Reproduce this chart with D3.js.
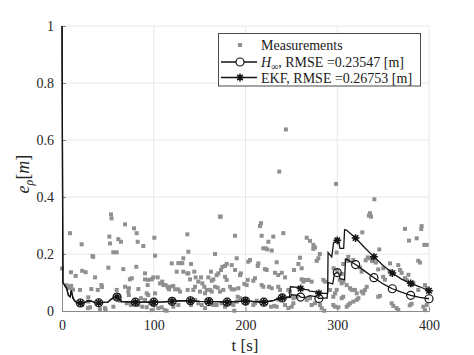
<!DOCTYPE html>
<html><head><meta charset="utf-8">
<script src="https://cdn.jsdelivr.net/npm/d3@7"></script>
<style>
html,body{margin:0;padding:0;background:#fff;}
svg{display:block;}
</style></head>
<body><svg id="chart" width="474" height="355"></svg>
<script>
// ---- data ----
const xTicks = [0, 100, 200, 300, 400];
const yTicks = [0, 0.2, 0.4, 0.6, 0.8, 1];
const yTickLabels = ["0", "0.2", "0.4", "0.6", "0.8", "1"];
const seriesNames = ["Measurements", "H∞, RMSE =0.23547 [m]", "EKF, RMSE =0.26753 [m]"];

const measurements = [
[0,0.149],[8.7,0.273],[21.4,0.234],[33.2,0.193],[34,0.19],[53.4,0.339],[54,0.325],[51.6,0.261],[52.3,0.237],[68.7,0.304],[78.5,0.29],[81.4,0.273],[61.4,0.252],[64.3,0.243],[88.6,0.228],[55.9,0.206],[59.6,0.206],[82.5,0.243],[9.8,0.136],[14.9,0.123],[22,0.141],[25.8,0.136],[50.5,0.152],[36,0.118],[66.8,0.147],[81,0.155],[74,0.111],[90.5,0.111],[90.5,0.132],[76,0.115],[43,0.091],[43.5,0.084],[39,0.074],[32,0.077],[28.7,0.048],[19.6,0.074],[5,0.09],[6,0.085],[8,0.08],[10,0.088],[12,0.075],[59.6,0.074],[68.7,0.085],[73,0.08],[72.3,0.068],[72.8,0.056],[83.2,0.077],[46.9,0.01],[47.5,0.004],[56,0.015],[41.4,0.006],[28.3,0.01],[30.5,0.013],[21.4,0.021],[63.2,0.036],[70.5,0.027],[75,0.021],[83.2,0.021],[87.5,0.015],[92.3,0.013],[86,0.045],[90.5,0.039],[28.7,0.033],
[100.6,0.257],[101.4,0.194],[136.6,0.269],[137.7,0.208],[172.2,0.331],[173,0.331],[166.8,0.2],[188.6,0.264],[190.4,0.185],[132.2,0.185],[126.8,0.168],[129.7,0.168],[131.1,0.168],[119.6,0.167],[140.6,0.165],[125,0.138],[132.2,0.138],[136.6,0.132],[137.7,0.132],[144.2,0.138],[145.7,0.118],[139.5,0.111],[148.6,0.103],[151.5,0.118],[152.9,0.097],[155.1,0.085],[159.5,0.118],[162.4,0.138],[163.2,0.106],[165,0.111],[168.6,0.126],[170.4,0.132],[173.3,0.144],[174.8,0.155],[177.7,0.158],[179.5,0.165],[185,0.161],[188.6,0.144],[177.7,0.12],[179.5,0.109],[166.8,0.085],[169.7,0.082],[183.1,0.085],[185,0.076],[187.8,0.076],[192.2,0.08],[94,0.109],[93.4,0.091],[97.8,0.111],[99.5,0.118],[104.3,0.118],[106.8,0.097],[109.3,0.103],[110.4,0.091],[113,0.091],[115.2,0.083],[116.6,0.076],[117.7,0.085],[121.3,0.088],[123.2,0.076],[126.8,0.076],[128.6,0.068],[143.1,0.074],[145,0.085],[137,0.074],[150.4,0.068],[155.9,0.062],[157.7,0.074],[161.3,0.074],[163.2,0.068],[172.2,0.068],[175.8,0.074],[92.3,0.062],[94,0.056],[101.4,0.062],[105,0.01],[108.7,0.013],[114,0.001],[112,0.003],[121.3,0.015],[126.8,0.021],[140.6,0.021],[145,0.039],[148.6,0.027],[152.3,0.021],[155.9,0.01],[165,0.021],[168.6,0.021],[174,0.027],[177.7,0.015],[183.1,0.027],[186.7,0.021],[187.8,0.001],[190.4,0.033],[95.9,0.027],[99.5,0.021],[97.8,0.003],
[215.8,0.298],[216.9,0.308],[217.6,0.264],[224.9,0.243],[230.3,0.261],[241.2,0.273],[219.4,0.22],[222,0.22],[223.8,0.216],[228.6,0.212],[266.7,0.257],[270.3,0.246],[275.7,0.223],[273.9,0.218],[277.6,0.176],[279.4,0.185],[259.4,0.187],[257.6,0.165],[261.2,0.15],[252.9,0.144],[234,0.171],[214,0.167],[213.3,0.158],[204.9,0.179],[203.1,0.173],[221.2,0.147],[223.1,0.144],[232.2,0.134],[235.7,0.126],[239.5,0.134],[243.1,0.118],[210.3,0.115],[208.5,0.106],[194,0.126],[195,0.132],[198.7,0.095],[202.4,0.109],[201.3,0.091],[217.6,0.091],[219.4,0.085],[225.6,0.085],[228.6,0.08],[235.7,0.085],[237.6,0.074],[261.2,0.111],[263,0.103],[264.8,0.109],[268.5,0.109],[272.1,0.103],[284.8,0.109],[286.6,0.103],[246.7,0.074],[248.5,0.068],[191.5,0.05],[194,0.045],[199.5,0.039],[201.3,0.027],[208.5,0.021],[210.3,0.027],[212.2,0.036],[227.8,0.015],[231.4,0.018],[234,0.015],[235.7,0.041],[243.1,0.021],[246.7,0.01],[250.4,0.015],[252.2,0.027],[252.2,0.045],[255.8,0.05],[266.7,0.039],[270.3,0.045],[272.1,0.021],[275.7,0.027],[281.2,0.021],[283,0.01],[285.9,0.001],
[236.8,0.489],[244,0.637],[298.7,0.446],[274,0.232],[281,0.2],[299.3,0.205],[312,0.19],[317.5,0.179],
[340.4,0.392],[335.7,0.343],[336.8,0.331],[334.5,0.335],[327.3,0.276],[345.8,0.216],[373.8,0.288],[392,0.298],[391.5,0.288],[378.2,0.247],[386.6,0.255],[388.3,0.176],[390.2,0.17],[394.9,0.232],[397.5,0.232],[312,0.176],[310.3,0.179],[333.2,0.188],[335.7,0.185],[331,0.178],[338,0.175],[342,0.17],[306.6,0.165],[296,0.15],[300,0.14],[305,0.13],[324.8,0.153],[326.6,0.138],[344.7,0.146],[350.2,0.15],[357.5,0.167],[366.5,0.161],[350,0.12],[357,0.14],[352,0.11],[368.4,0.144],[370.2,0.134],[373.8,0.115],[375.7,0.109],[377.6,0.127],[381.1,0.091],[382.9,0.099],[388.3,0.074],[395.6,0.091],[397.5,0.08],[303,0.109],[304.8,0.097],[306.6,0.103],[310.3,0.091],[313.9,0.08],[315.8,0.074],[319.3,0.074],[321.2,0.062],[326.6,0.068],[328.4,0.062],[330.3,0.074],[332.1,0.085],[344.7,0.05],[346.6,0.053],[359.3,0.027],[361.1,0.018],[364.7,0.01],[366.5,0.004],[292,0.074],[295.7,0.05],[297.5,0.062],[299.4,0.074],[304.8,0.045],[306.6,0.05],[295.7,0.021],[297.5,0.015],[301.2,0.013],[310.3,0.015],[312.1,0.021],[313.9,0.027],[317.5,0.033],[321.2,0.039],[323,0.045],[393.8,0.015],[397.5,0.021],[395.6,0.003],[379,0.02],[381,0.025]
];

const hinfT = [0,1,3,5,7,9,10,11,12,14,16,20,25,28,32,35,40,45,50,53,57,60,63,65,80,100,110,120,130,140,150,160,170,180,190,200,210,220,230,235,240,249,250,258,260,265,270,278,280,285,289,290,295,297,300,302,303,308,309,310,320,330,340,350,360,370,380,390,400];
const hinfV = [1.0,0.1,0.09,0.08,0.055,0.05,0.072,0.06,0.045,0.035,0.03,0.028,0.03,0.036,0.035,0.03,0.029,0.03,0.031,0.04,0.048,0.049,0.04,0.033,0.031,0.031,0.032,0.034,0.036,0.036,0.034,0.033,0.033,0.031,0.033,0.035,0.033,0.031,0.036,0.043,0.046,0.048,0.057,0.055,0.049,0.047,0.054,0.05,0.044,0.045,0.045,0.1,0.095,0.13,0.135,0.13,0.113,0.11,0.18,0.182,0.163,0.14,0.117,0.095,0.078,0.066,0.055,0.048,0.043];

const ekfT = [0,1,3,5,7,9,10,11,12,14,16,20,25,28,32,35,40,45,50,53,57,60,63,65,80,100,110,120,130,140,150,160,170,180,190,200,210,220,230,235,240,248,249,258,260,265,268,270,278,280,285,289.5,290,294,296,300,302,303,307,308,310,320,330,340,350,360,370,378,380,390,400];
const ekfV = [1.0,0.1,0.09,0.08,0.055,0.05,0.072,0.06,0.045,0.035,0.03,0.028,0.03,0.036,0.035,0.03,0.029,0.03,0.031,0.04,0.048,0.049,0.04,0.033,0.031,0.031,0.032,0.034,0.036,0.036,0.034,0.033,0.033,0.031,0.033,0.035,0.033,0.031,0.036,0.043,0.046,0.05,0.085,0.083,0.079,0.075,0.075,0.07,0.067,0.062,0.062,0.062,0.205,0.19,0.24,0.248,0.235,0.22,0.22,0.285,0.284,0.256,0.222,0.19,0.16,0.133,0.112,0.1,0.097,0.085,0.071];

const FONT = '"Liberation Serif"';

// ---- layout ----
const svg = d3.select("#chart");
const x = d3.scaleLinear().domain([0, 400]).range([62, 429]);
const y = d3.scaleLinear().domain([0, 1]).range([311, 26]);
const ink = "#151515";

// grid
const grid = svg.append("g");
grid.selectAll("line.gx").data(xTicks.filter(d => d > 0)).join("line")
  .attr("x1", d => x(d)).attr("x2", d => x(d)).attr("y1", y(0)).attr("y2", y(1))
  .attr("stroke", "#e8e8e8").attr("stroke-width", 1);
grid.selectAll("line.gy").data(yTicks.filter(d => d > 0)).join("line")
  .attr("x1", x(0)).attr("x2", x(400)).attr("y1", d => y(d)).attr("y2", d => y(d))
  .attr("stroke", "#e8e8e8").attr("stroke-width", 1);

// measurements
const sq = 4;
svg.append("g").selectAll("rect").data(measurements).join("rect")
  .attr("x", d => x(d[0]) - sq / 2).attr("y", d => y(d[1]) - sq / 2)
  .attr("width", sq).attr("height", sq).attr("fill", "#909090");

// axes
const xAxis = d3.axisBottom(x).tickValues(xTicks).tickSize(-4).tickPadding(9).tickFormat(d3.format("d"));
const yAxis = d3.axisLeft(y).tickValues(yTicks).tickSize(-4).tickPadding(8).tickFormat((d, i) => yTickLabels[i]);
const gx = svg.append("g").attr("transform", `translate(0,${y(0)})`).call(xAxis);
const gy = svg.append("g").attr("transform", `translate(${x(0)},0)`).call(yAxis);
[gx, gy].forEach(g => {
  g.select(".domain").attr("stroke", "#8a8a8a").attr("stroke-width", 1);
  g.selectAll(".tick line").attr("stroke", "#8a8a8a");
  g.selectAll(".tick text").attr("fill", "#262626").style("font-size", "14px");
});

// lines
const lineGen = d3.line().x(d => x(d[0])).y(d => y(d[1]));
const hinf = hinfT.map((t, i) => [t, hinfV[i]]);
const ekf = ekfT.map((t, i) => [t, ekfV[i]]);
svg.append("path").datum(hinf).attr("d", lineGen).attr("fill", "none").attr("stroke", ink).attr("stroke-width", 1.3);
svg.append("path").datum(ekf).attr("d", lineGen).attr("fill", "none").attr("stroke", ink).attr("stroke-width", 1.3);

// markers every 20 s
const isMark = d => d[0] > 0 && d[0] % 20 === 0;
svg.append("g").selectAll("circle").data(hinf.filter(isMark)).join("circle")
  .attr("cx", d => x(d[0])).attr("cy", d => y(d[1])).attr("r", 4)
  .attr("fill", "none").attr("stroke", ink).attr("stroke-width", 1.2);
const ar = 3.9, ad = ar * Math.SQRT1_2;
const asterisk = `M${-ar},0L${ar},0M0,${-ar}L0,${ar}M${-ad},${-ad}L${ad},${ad}M${-ad},${ad}L${ad},${-ad}`;
function drawAsterisk(sel) {
  sel.append("path").attr("d", asterisk).attr("fill", "none").attr("stroke", ink).attr("stroke-width", 1.5);
  sel.append("circle").attr("r", 2.2).attr("fill", ink);
}
svg.append("g").selectAll("g").data(ekf.filter(isMark)).join("g")
  .attr("transform", d => `translate(${x(d[0])},${y(d[1])})`).call(drawAsterisk);

// axis labels
svg.append("text").attr("x", 245).attr("y", 351).attr("text-anchor", "middle")
  .style("font-size", "17px").attr("fill", "#262626").text("t [s]");
const yl = svg.append("text").attr("transform", "translate(29,174) rotate(-90)")
  .attr("text-anchor", "middle").style("font-size", "18px").attr("fill", "#262626");
yl.append("tspan").style("font-style", "italic").text("e");
yl.append("tspan").style("font-style", "italic").style("font-size", "12px").attr("dy", 4).text("ρ");
yl.append("tspan").attr("dy", -4).text("[");
yl.append("tspan").style("font-style", "italic").text("m");
yl.append("tspan").text("]");

// legend
const lg = svg.append("g");
lg.append("rect").attr("x", 218.5).attr("y", 33.5).attr("width", 202).attr("height", 52.5)
  .attr("fill", "#fff").attr("stroke", "#4a4a4a").attr("stroke-width", 1);
const rows = [45, 62, 77.5];
lg.append("rect").attr("x", 240 - sq / 2).attr("y", rows[0] - sq / 2).attr("width", sq).attr("height", sq).attr("fill", "#909090");
[1, 2].forEach(i => {
  lg.append("line").attr("x1", 221).attr("x2", 257).attr("y1", rows[i]).attr("y2", rows[i])
    .attr("stroke", ink).attr("stroke-width", 1.3);
});
lg.append("circle").attr("cx", 240).attr("cy", rows[1]).attr("r", 4).attr("fill", "#fff")
  .attr("stroke", ink).attr("stroke-width", 1.2);
lg.append("g").attr("transform", `translate(240,${rows[2]})`).call(drawAsterisk);
const tx = 261;
lg.append("text").attr("x", tx).attr("y", rows[0] + 5).style("font-size", "14px").attr("fill", "#1a1a1a").text(seriesNames[0]);
const t2 = lg.append("text").attr("x", tx).attr("y", rows[1] + 5).style("font-size", "14px").attr("fill", "#1a1a1a");
t2.append("tspan").style("font-style", "italic").text("H");
t2.append("tspan").style("font-size", "10px").attr("dy", 3).text("∞");
t2.append("tspan").attr("dy", -3).text(seriesNames[1].slice(2));
lg.append("text").attr("x", tx).attr("y", rows[2] + 5).style("font-size", "14px").attr("fill", "#1a1a1a").text(seriesNames[2]);

// apply the serif font directly on every text element
svg.selectAll("g").attr("font-family", null);
svg.selectAll("text").style("font-family", FONT);
</script>
</body></html>
